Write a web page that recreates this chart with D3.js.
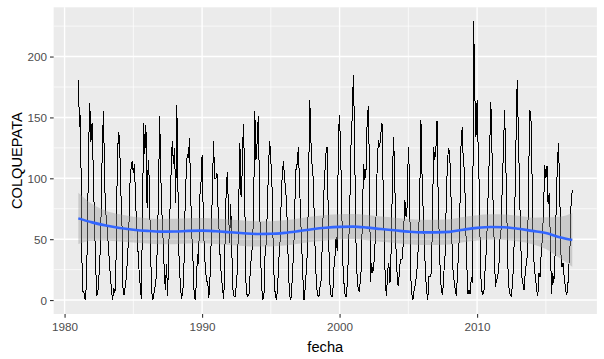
<!DOCTYPE html>
<html><head><meta charset="utf-8">
<script src="https://cdn.jsdelivr.net/npm/d3@7"></script>
<style>body{margin:0;background:#fff}svg{display:block}</style>
</head><body><svg id="c" width="604" height="359"></svg>
<script>
// Monthly values of COLQUEPATA, Jan 1981 .. Dec 2016 (12 per row)
const startYear = 1981;
const precip = [
181,142,152,38,7,6,0,11,55,125,162,130,
145,107,70,35,4,5,19,38,75,130,155,95,
72,60,48,34,20,8,0,10,6,35,110,138,
134,90,71,10,4,12,19,36,55,95,108,114,
104,112,80,62,42,25,12,1,70,145,120,144,
76,115,98,45,8,0,5,11,19,45,90,151,
101,70,50,25,8,30,3,45,74,105,131,112,
125,80,160,90,30,14,1,5,19,70,100,120,
117,133,90,55,35,8,0,14,38,30,85,95,
119,70,40,25,16,14,2,20,50,90,131,100,
100,104,75,55,30,19,8,1,45,88,105,78,
47,79,40,8,3,3,14,27,80,129,85,105,
145,110,20,5,3,5,22,36,45,74,155,115,
129,151,100,40,11,0,3,38,47,75,110,131,
115,93,50,14,4,0,12,33,47,79,104,114,
100,90,74,38,11,0,3,25,40,80,108,112,
126,95,70,44,19,0,10,25,41,100,164,131,
110,100,66,30,11,4,3,11,17,50,82,101,
120,126,80,30,5,3,3,25,36,52,40,137,
152,118,71,28,12,3,3,19,47,82,130,150,
185,140,60,25,11,7,14,27,74,112,99,104,
145,159,115,15,30,22,30,47,74,118,131,126,
137,145,96,49,14,3,25,30,14,40,90,134,
112,47,25,12,20,33,33,34,60,82,68,77,
126,100,22,5,0,8,12,19,30,52,90,148,
100,71,47,22,7,0,19,19,22,60,126,115,
123,147,90,50,20,6,5,22,36,75,110,125,
122,95,50,25,15,8,3,25,40,74,129,142,
112,107,65,30,5,8,5,19,14,229,170,134,
164,120,90,25,8,5,7,25,40,65,100,125,
163,120,80,45,11,16,19,27,50,58,95,123,
156,115,70,25,8,4,3,15,34,80,134,181,
137,93,52,19,14,8,22,30,38,101,156,150,
99,45,25,19,8,3,22,19,40,50,74,111,
100,110,79,88,47,5,22,14,36,74,110,129,
96,40,27,30,19,11,4,8,27,41,79,90
];

// loess smoother: decimal year, fitted value, half-width of band
const smoothYear = [1981.0,1982,1983,1984,1985,1986,1987,1988,1989,1990,1991,1992,1993,1994,1995,1996,1997,1998,1999,2000,2001,2002,2003,2004,2005,2006,2007,2008,2009,2010,2011,2012,2013,2014,2015,2016,2016.92];
const smoothFit  = [67.1,63.8,61.2,59.2,57.8,56.8,56.2,56.3,56.8,57.0,56.5,55.7,54.9,54.3,54.4,55.2,56.6,58.2,59.4,60.1,60.3,59.5,58.3,57.3,56.2,55.6,55.6,56.0,57.8,59.3,60.0,59.8,58.6,56.8,55.0,51.5,49.3];
const smoothHalf = [21,15,12.2,11.2,10.6,10.4,10.4,10.4,10.4,10.4,10.4,10.4,10.4,10.4,10.4,10.4,10.4,10.4,10.4,10.4,10.4,10.4,10.4,10.4,10.4,10.4,10.4,10.4,10.4,10.4,10.4,10.5,10.6,10.9,13,17,22];

const xMajor = [1980,1990,2000,2010];
const xMinor = [1985,1995,2005,2015];
const yMajor = [0,50,100,150,200];
const yMinor = [25,75,125,175,225];
const xTitle = "fecha", yTitle = "COLQUEPATA";

const data = precip.map((v,i)=>({date:new Date(Date.UTC(startYear, i, 1)), v}));
function decToDate(y){const yr=Math.floor(y);const s=Date.UTC(yr,0,1),e=Date.UTC(yr+1,0,1);return new Date(s+(y-yr)*(e-s));}
const smooth = smoothYear.map((y,i)=>({date:decToDate(y), fit:smoothFit[i], lo:smoothFit[i]-smoothHalf[i], hi:smoothFit[i]+smoothHalf[i]}));

const W=604,H=359, pl=53.65, pr=596.9, pt=7.3, pb=314;
const d0=data[0].date, d1=data[data.length-1].date, span=d1-d0;
const x=d3.scaleUtc().domain([new Date(+d0-0.05*span), new Date(+d1+0.05*span)]).range([pl,pr]);
const ymin=d3.min(data,d=>d.v), ymax=d3.max(data,d=>d.v), yr=ymax-ymin;
const y=d3.scaleLinear().domain([ymin-0.05*yr, ymax+0.05*yr]).range([pb,pt]);

const svg=d3.select("#c");
svg.append("rect").attr("x",pl).attr("y",pt).attr("width",pr-pl).attr("height",pb-pt).attr("fill","#EBEBEB");
const yr2date = v=>new Date(Date.UTC(v,0,1));
const g=svg.append("g");
yMinor.forEach(v=>g.append("line").attr("x1",pl).attr("x2",pr).attr("y1",y(v)).attr("y2",y(v)).attr("stroke","#fff").attr("stroke-width",0.7));
xMinor.forEach(v=>g.append("line").attr("y1",pt).attr("y2",pb).attr("x1",x(yr2date(v))).attr("x2",x(yr2date(v))).attr("stroke","#fff").attr("stroke-width",0.7));
yMajor.forEach(v=>g.append("line").attr("x1",pl).attr("x2",pr).attr("y1",y(v)).attr("y2",y(v)).attr("stroke","#fff").attr("stroke-width",1.4));
xMajor.forEach(v=>g.append("line").attr("y1",pt).attr("y2",pb).attr("x1",x(yr2date(v))).attr("x2",x(yr2date(v))).attr("stroke","#fff").attr("stroke-width",1.4));

// data line
svg.append("path").datum(data).attr("fill","none").attr("stroke","#000").attr("stroke-width",1)
  .attr("shape-rendering","crispEdges")
  .attr("d",d3.line().x(d=>x(d.date)).y(d=>y(d.v)));

// smoother band + line
svg.append("path").datum(smooth).attr("fill","#999999").attr("fill-opacity",0.4)
  .attr("d",d3.area().curve(d3.curveMonotoneX).x(d=>x(d.date)).y0(d=>y(d.lo)).y1(d=>y(d.hi)));
svg.append("path").datum(smooth).attr("fill","none").attr("stroke","#3366FF").attr("stroke-width",2.6)
  .attr("d",d3.line().curve(d3.curveMonotoneX).x(d=>x(d.date)).y(d=>y(d.fit)));

// axes
const font="'Liberation Sans', Arial, sans-serif";
const ax=svg.append("g").attr("transform",`translate(0,${pb})`)
  .call(d3.axisBottom(x).tickValues(xMajor.map(yr2date)).tickFormat(d3.utcFormat("%Y")).tickSize(3.67).tickPadding(5));
const ay=svg.append("g").attr("transform",`translate(${pl},0)`)
  .call(d3.axisLeft(y).tickValues(yMajor).tickSize(3.67).tickPadding(3));
[ax,ay].forEach(a=>{a.select(".domain").remove();
  a.selectAll(".tick line").attr("stroke","#333333").attr("stroke-width",1.1);
  a.selectAll(".tick text").attr("fill","#4D4D4D").style("font-family",font).style("font-size","11.7px");});
ay.selectAll(".tick text").attr("dy","0.36em");

svg.append("text").attr("x",(pl+pr)/2).attr("y",352).attr("text-anchor","middle")
  .style("font-family",font).style("font-size","14.67px").attr("fill","#000").text(xTitle);
svg.append("text").attr("transform",`translate(21.5,${(pt+pb)/2}) rotate(-90)`).attr("text-anchor","middle")
  .style("font-family",font).style("font-size","14.67px").attr("fill","#000").text(yTitle);
</script></body></html>
